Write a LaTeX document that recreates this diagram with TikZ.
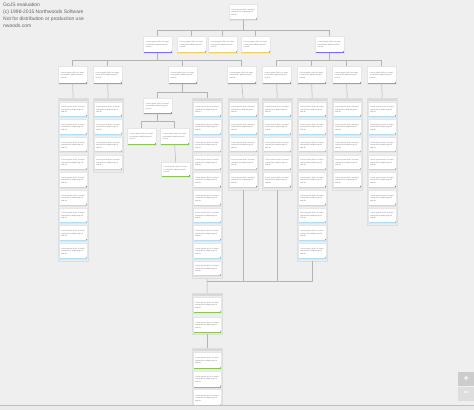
\documentclass[tikz,border=0pt]{standalone}
\usepackage{fontspec}
\setmainfont{Liberation Sans}
\usetikzlibrary{calc}
\definecolor{bgc}{HTML}{EFEFEF}
\definecolor{lnc}{HTML}{B4B4B4}
\definecolor{purp}{HTML}{7D6FE8}
\definecolor{yel}{HTML}{F3D25A}
\definecolor{blu}{HTML}{62B3E6}
\definecolor{lblu}{HTML}{B2DDF2}
\definecolor{grn}{HTML}{8DC653}
\newcommand\tinytxt{\fontsize{1.9}{2.5}\selectfont}
\newcommand\ftxt{Lorem ipsum dolor sit amet consectetur adipiscing elit sed do}
\tikzset{
  box/.style={draw=black!10, fill=white, inner sep=0pt, anchor=north west,
    text width=24pt, align=left, font=\tinytxt, text=black!50,
    path picture={\fill[#1] ([yshift=1.2pt]path picture bounding box.south west) rectangle (path picture bounding box.south east);
      \fill[black!55] ([yshift=1.2pt]path picture bounding box.south east) -- ++(-1.3pt,0) -- ++(1.3pt,1.3pt) -- cycle;}},
  card/.style={box=#1, minimum width=28pt, minimum height=15.5pt},
  head/.style={box=#1, minimum width=29pt, minimum height=17pt},
  colbox/.style={draw=black!13, fill=black!7, inner sep=0pt, anchor=north west, minimum width=30pt,
    path picture={\fill[black!15] (path picture bounding box.north west) rectangle ([yshift=-2.5pt]path picture bounding box.north east);}},
  link/.style={draw=lnc, line width=0.5pt}
}
\begin{document}
\begin{tikzpicture}[x=1pt,y=-1pt]
\fill[bgc] (0,0) rectangle (474,410);
\useasboundingbox (0,0) rectangle (474,410);
% watermark
\node[anchor=north west, inner sep=0pt, align=left, font=\fontsize{5}{7}\selectfont, text=black!60] (wm) at (3,3)
  {GoJS evaluation\\(c) 1998-2015 Northwoods Software\\Not for distribution or production use\\nwoods.com};
% top
\node[head=yel, minimum width=28pt, minimum height=16pt] (top) at (229,4) {\ftxt};
% level 2
\node[head=purp] (A) at (143,36) {\ftxt};
\node[head=yel] (B) at (177,36) {\ftxt};
\node[head=yel] (C) at (208,36) {\ftxt};
\node[head=yel] (D) at (241,36) {\ftxt};
\node[head=purp] (E) at (315,36) {\ftxt};
\foreach \n in {A,B,C,D,E} \draw[link] (top.south) -- ++(0,10) -| (\n.north);
% level 3
\foreach \n/\x in {L1/58,L2/93,L3/168,L4/227,L5/262,L6/297,L7/332,L8/367}
  \node[head=blu, minimum height=18pt] (\n) at (\x,66) {\ftxt};
\foreach \n in {L1,L2,L3,L4} \draw[link] (A.south) -- ++(0,7) -| (\n.north);
\foreach \n in {L5,L6,L7,L8} \draw[link] (E.south) -- ++(0,7) -| (\n.north);
% columns
\foreach \id/\cx/\m in {a/58/9,b/93/4,d/192/10,e/228/5,f/262/5,g/297/9,h/332/5,i/367/7}{
  \pgfmathsetmacro\hh{\m*17.7+3.3}
  \node[colbox, minimum height=\hh pt] (col\id) at (\cx,98) {};
  \foreach \k in {1,...,\m}
    \node[card=lblu] (\id\k) at ({\cx+1},{101.5+(\k-1)*17.7}) {\ftxt};
}
\foreach \n/\c in {L1/a,L2/b,L4/e,L5/f,L6/g,L7/h,L8/i} \draw[link] (\n.south) -- (col\c.north);
% tree under L3
\node[head=blu, minimum height=16pt] (T0) at (143,98) {\ftxt};
\node[head=grn] (T1) at (127,128) {\ftxt};
\node[head=grn] (T2) at (160,128) {\ftxt};
\node[head=grn, minimum height=15pt] (T3) at (161,162) {\ftxt};
\draw[link] (L3.south) -- ++(0,8) -| (T0.north);
\draw[link] (L3.south) -- ++(0,8) -| (cold.north);
\draw[link] (T0.south) -- ++(0,7) -| (T1.north);
\draw[link] (T0.south) -- ++(0,7) -| (T2.north);
\draw[link] (T2.south) -- (T3.north);
% bottom groups
\coordinate (bus) at (207,281);
\node[colbox, minimum height=41pt] (G1) at (192,293) {};
\node[card=grn, minimum height=16pt] (g11) at (193,296.7) {\ftxt};
\node[card=grn, minimum height=16pt] (g12) at (193,316.7) {\ftxt};
\node[colbox, minimum height=60pt] (G2) at (192,348) {};
\node[card=grn, minimum height=17pt] (g21) at (193,351.7) {\ftxt};
\node[card=grn, minimum height=17pt] (g22) at (193,370.5) {\ftxt};
\node[card=grn, minimum height=17pt] (g23) at (193,389.3) {\ftxt};
\draw[link] (cold.south) -- (bus);
\draw[link] (cole.south) |- (bus);
\draw[link] (colf.south) |- (bus);
\draw[link] (colg.south) |- (bus);
\draw[link] (bus) -- (G1.north);
\draw[link] (G1.south) -- (G2.north);
% bottom strip and zoom buttons
\fill[black!8] (0,405) rectangle (474,410);
\draw[black!25, line width=0.6pt] (0,405) -- (474,405);
\node[fill=black!20, minimum width=16pt, minimum height=14pt, inner sep=0pt, anchor=north west, text=white, font=\bfseries\fontsize{9}{9}\selectfont] (zin) at (458,372) {+};
\node[fill=black!13, minimum width=16pt, minimum height=14pt, inner sep=0pt, anchor=north west, text=white, font=\bfseries\fontsize{9}{9}\selectfont] (zout) at (458,387) {\char"2212};
\end{tikzpicture}
\end{document}
